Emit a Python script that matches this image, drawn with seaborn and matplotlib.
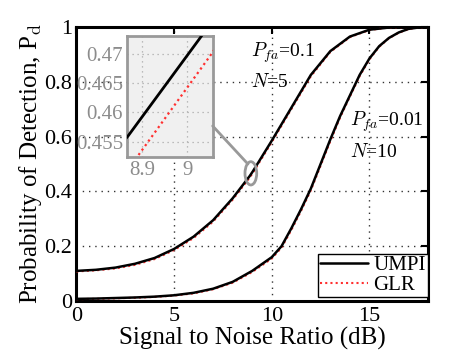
import numpy as np
import pandas as pd
import matplotlib
matplotlib.use("Agg")
import matplotlib.pyplot as plt
from matplotlib.patches import Ellipse, ConnectionPatch
import seaborn as sns

# ---------------- data ----------------
snr_umpi_a = [0, 1, 2, 3, 4, 5, 6, 7, 8, 8.87, 9.03, 10, 11, 12, 13, 14, 15, 16, 17, 18]
pd_umpi_a = [0.110, 0.114, 0.122, 0.136, 0.157, 0.190, 0.235, 0.295, 0.375, 0.456, 0.473,
             0.585, 0.705, 0.825, 0.912, 0.965, 0.990, 0.998, 1.0, 1.0]
snr_glr_a = [0, 1, 2, 3, 4, 5, 6, 7, 8, 8.89, 9.05, 10, 11, 12, 13, 14, 15, 16, 17, 18]
pd_glr_a = [0.108, 0.112, 0.119, 0.132, 0.153, 0.186, 0.230, 0.290, 0.370, 0.4524, 0.4697,
            0.580, 0.700, 0.820, 0.909, 0.963, 0.989, 0.998, 1.0, 1.0]

snr_b = [0, 1, 2, 3, 4, 5, 6, 7, 8, 9, 10, 10.5, 11, 11.5, 12, 12.5, 13, 13.5, 14, 14.5,
         15, 15.5, 16, 16.5, 17, 17.5, 18]
pd_umpi_b = [0.008, 0.009, 0.011, 0.013, 0.016, 0.021, 0.030, 0.045, 0.070, 0.110, 0.160,
             0.200, 0.265, 0.335, 0.410, 0.500, 0.590, 0.675, 0.750, 0.825, 0.885, 0.930,
             0.960, 0.980, 0.993, 0.998, 1.0]
pd_glr_b = [0.007, 0.008, 0.010, 0.012, 0.015, 0.020, 0.028, 0.043, 0.067, 0.106, 0.155,
            0.195, 0.259, 0.329, 0.404, 0.494, 0.584, 0.670, 0.746, 0.821, 0.882, 0.928,
            0.959, 0.979, 0.992, 0.998, 1.0]

xticks = [0, 5, 10, 15]
yticks = [0, 0.2, 0.4, 0.6, 0.8, 1]
yticklabels = ["0", "0.2", "0.4", "0.6", "0.8", "1"]
inset_xticks = [8.9, 9]
inset_xticklabels = ["8.9", "9"]
inset_yticks = [0.455, 0.46, 0.465, 0.47]
inset_yticklabels = ["0.455", "0.46", "0.465", "0.47"]

# ---------------- style ----------------
sns.set_style("white")
plt.rcParams["font.family"] = ["Liberation Serif", "DejaVu Serif"]
plt.rcParams["mathtext.fontset"] = "cm"
plt.rcParams["text.color"] = "black"
plt.rcParams["axes.labelcolor"] = "black"
plt.rcParams["xtick.color"] = "black"
plt.rcParams["ytick.color"] = "black"

fig = plt.figure(figsize=(4.74, 3.55), dpi=100)
ax = fig.add_axes([0.1612, 0.152, 0.7418, 0.772])

def draw_curves(a, lw_s=1.8, lw_d=1.5, legend=True):
    sns.lineplot(x=snr_glr_a, y=pd_glr_a, ax=a, color="#ff3030", linestyle=(0, (1, 1.5)),
                 linewidth=lw_d, label="GLR" if legend else None, zorder=3, sort=True)
    sns.lineplot(x=snr_umpi_a, y=pd_umpi_a, ax=a, color="black", linestyle="-",
                 linewidth=lw_s, label="UMPI" if legend else None, zorder=4, sort=True)
    sns.lineplot(x=snr_b, y=pd_glr_b, ax=a, color="#ff3030", linestyle=(0, (1, 1.5)),
                 linewidth=lw_d, zorder=3, sort=True)
    sns.lineplot(x=snr_b, y=pd_umpi_b, ax=a, color="black", linestyle="-",
                 linewidth=lw_s, zorder=4, sort=True)

draw_curves(ax)

ax.set_xlim(0, 18)
ax.set_ylim(0, 1)
ax.set_xticks(xticks)
ax.set_xticklabels([str(t) for t in xticks])
ax.set_yticks(yticks)
ax.set_yticklabels(yticklabels)
ax.tick_params(direction="in", length=5, width=1.5, top=True, right=True,
               labelsize=16, colors="black")
ax.tick_params(axis="x", pad=4)
ax.tick_params(axis="y", pad=3)
for s in ax.spines.values():
    s.set_linewidth(2.2)
    s.set_color("black")
    s.set_visible(True)
ax.grid(True, color="#333333", linestyle=(0, (1, 3.5)), linewidth=1.0)
ax.set_xlabel("Signal to Noise Ratio (dB)", fontsize=18, labelpad=1)
ax.set_ylabel(r"Probability of Detection, P$_{\mathrm{d}}$", fontsize=18, labelpad=0)

# legend
h, l = ax.get_legend_handles_labels()
order = [l.index("UMPI"), l.index("GLR")]
leg = ax.legend([h[i] for i in order], [l[i] for i in order], loc="lower right",
                bbox_to_anchor=(1.0, 0.015),
                fontsize=15, frameon=True, fancybox=False, framealpha=1,
                edgecolor="black", handlelength=2.3, handletextpad=0.25,
                borderpad=0.1, labelspacing=0.0, borderaxespad=0.0)
leg.get_frame().set_linewidth(1.0)

# annotations
ax.text(8.95, 0.905, r"$P_{fa}$=0.1", fontsize=14, va="center", ha="left")
ax.text(8.95, 0.80, r"$N$=5", fontsize=14, va="center", ha="left")
ax.text(14.0, 0.655, r"$P_{fa}$=0.01", fontsize=14, va="center", ha="left")
ax.text(14.0, 0.545, r"$N$=10", fontsize=14, va="center", ha="left")

# zoom marker
ax.add_patch(Ellipse((8.93, 0.466), 0.6, 0.085, fill=False, edgecolor="#999999",
                     linewidth=2, zorder=6))

# inset
ins = fig.add_axes([0.2686, 0.5586, 0.1801, 0.3408])
ins.set_facecolor("#f0f0f0")
draw_curves(ins, lw_s=2.0, lw_d=1.6, legend=False)
ins.set_xlim(8.868, 9.056)
ins.set_ylim(0.4524, 0.4732)
ins.set_xticks(inset_xticks)
ins.set_xticklabels(inset_xticklabels)
ins.set_yticks(inset_yticks)
ins.set_yticklabels(inset_yticklabels)
ins.tick_params(length=0, labelsize=15, labelcolor="#8c8c8c", pad=3)
for s in ins.spines.values():
    s.set_linewidth(2)
    s.set_color("#999999")
    s.set_visible(True)
ins.grid(True, color="#aaaaaa", linestyle=(0, (1, 3)), linewidth=0.9)
ins.set_xlabel("")
ins.set_ylabel("")
if ins.get_legend():
    ins.get_legend().remove()

con = ConnectionPatch(xyA=(1, 0.254), coordsA=ins.transAxes,
                      xyB=(8.78, 0.50), coordsB=ax.transData,
                      color="#999999", linewidth=2)
fig.add_artist(con)

fig.savefig("out.png", dpi=100)
